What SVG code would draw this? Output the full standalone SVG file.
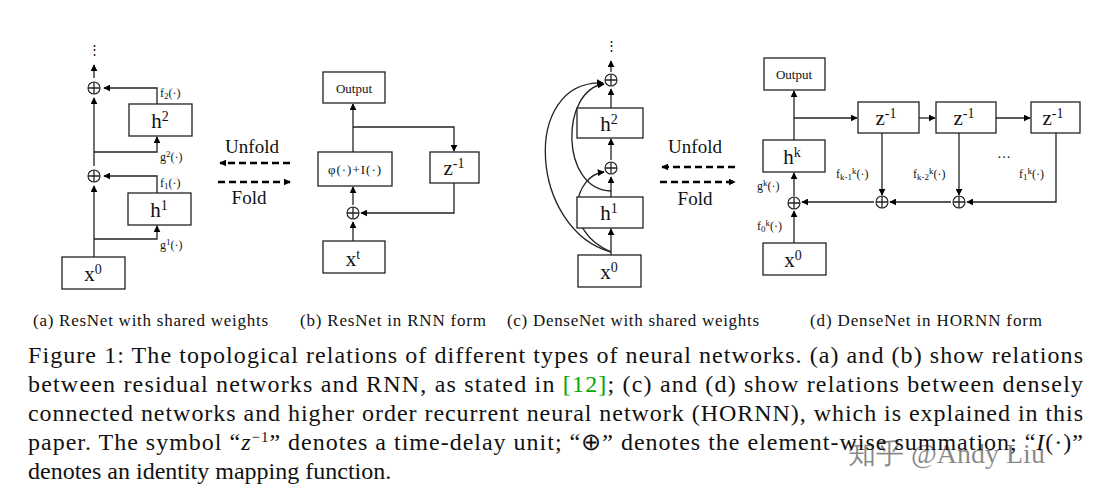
<svg xmlns="http://www.w3.org/2000/svg" width="1103" height="496" viewBox="0 0 1103 496">
<defs>
<marker id="ah" viewBox="0 0 10 10" refX="9" refY="5" markerWidth="7" markerHeight="7" orient="auto" markerUnits="userSpaceOnUse"><path d="M0,0 L10,5 L0,10 z" fill="#000"/></marker>
</defs>
<style>
.b{fill:#fff;stroke:#222;stroke-width:1.3}
.l{fill:none;stroke:#222;stroke-width:1.3}
.a{fill:none;stroke:#222;stroke-width:1.3;marker-end:url(#ah)}
.d{fill:none;stroke:#000;stroke-width:2.5;stroke-dasharray:7,4;marker-end:url(#ah)}
.c{fill:#fff;stroke:#222;stroke-width:1.1}
text{font-family:"Liberation Serif",serif;fill:#111}
.t{font-size:21px;text-anchor:middle}
.s{font-size:12px}
.m{font-size:13px;text-anchor:middle}
.cap{font-size:17px}
.fig{font-size:24px}
</style>
<g id="connectors">
<path class="a" d="M94,257 V186"/><path class="a" d="M94,166 V98"/><path class="a" d="M94,78 V65"/>
<path class="a" d="M94,239 H157 V226"/><path class="a" d="M157,193 V176 H104"/>
<path class="a" d="M94,152 H157 V137"/><path class="a" d="M157,104 V88 H104"/>
<path class="a" d="M353,241 V222"/><path class="a" d="M353,205 V187"/><path class="a" d="M353,152 V104"/>
<path class="a" d="M353,127 H454 V151"/><path class="a" d="M454,183 V213 H361"/>
<path class="d" d="M290,163 H220"/><path class="d" d="M218,182 H290"/>
<path class="a" d="M611,255 V229"/><path class="a" d="M611,197 V177"/><path class="a" d="M611,160 V139"/><path class="a" d="M611,108 V89"/><path class="a" d="M611,72 V61"/>
<path class="a" d="M611,252 C560,230 575,175 604,172"/>
<path class="a" d="M611,252 C530,230 520,80 603,83"/>
<path class="a" d="M611,191 C560,190 560,90 604,84"/>
<path class="d" d="M735,167 H662"/><path class="d" d="M660,182 H735"/>
<path class="a" d="M794,243 V211"/><path class="a" d="M794,196 V173"/><path class="a" d="M794,140 V91"/>
<path class="a" d="M794,118 H857"/><path class="a" d="M919,118 H935"/><path class="a" d="M996,118 H1030"/>
<path class="a" d="M882,133 V195"/><path class="a" d="M959,133 V195"/>
<path class="a" d="M1056,133 V202 H967"/><path class="a" d="M951,202 H890"/><path class="a" d="M874,202 H802"/>
</g>
<g id="a-x0"><rect class="b" x="62" y="257" width="63" height="32"/><text class="t" x="93" y="281">x<tspan font-size="14" dy="-7">0</tspan></text></g>
<g id="a-h1"><rect class="b" x="128" y="193" width="63" height="32"/><text class="t" x="159" y="217">h<tspan font-size="14" dy="-7">1</tspan></text></g>
<g id="a-h2"><rect class="b" x="129" y="104" width="63" height="32"/><text class="t" x="160" y="128">h<tspan font-size="14" dy="-7">2</tspan></text></g>
<g id="a-p1"><circle class="c" cx="94" cy="176" r="6"/><path class="l" d="M88,176H100M94,170V182" stroke-width="0.9"/></g>
<g id="a-p2"><circle class="c" cx="94" cy="88" r="6"/><path class="l" d="M88,88H100M94,82V94" stroke-width="0.9"/></g>
<text class="m" x="94" y="54">⋮</text>
<text class="s" x="160" y="249">g<tspan font-size="9" dy="-4">1</tspan><tspan dy="4">(·)</tspan></text>
<text class="s" x="160" y="187">f<tspan font-size="9" dy="2">1</tspan><tspan dy="-2">(·)</tspan></text>
<text class="s" x="160" y="161">g<tspan font-size="9" dy="-4">2</tspan><tspan dy="4">(·)</tspan></text>
<text class="s" x="160" y="97">f<tspan font-size="9" dy="2">2</tspan><tspan dy="-2">(·)</tspan></text>

<g id="b-out"><rect class="b" x="323" y="72" width="62" height="31"/><text class="m" x="354" y="93">Output</text></g>
<g id="b-phi"><rect class="b" x="318" y="152" width="74" height="34"/><text x="355" y="174" font-size="13" text-anchor="middle" letter-spacing="1">φ(·)+I(·)</text></g>
<g id="b-z"><rect class="b" x="430" y="152" width="49" height="31"/><text class="t" x="454" y="175">z<tspan font-size="14" dy="-7">-1</tspan></text></g>
<g id="b-xt"><rect class="b" x="323" y="241" width="62" height="32"/><text class="t" x="353" y="266">x<tspan font-size="14" dy="-7">t</tspan></text></g>
<g id="b-p"><circle class="c" cx="353" cy="213" r="6"/><path class="l" d="M347,213H359M353,207V219" stroke-width="0.9"/></g>
<text x="252" y="153" font-size="19" text-anchor="middle">Unfold</text>
<text x="249" y="204" font-size="19" text-anchor="middle">Fold</text>

<g id="c-x0"><rect class="b" x="578" y="255" width="63" height="32"/><text class="t" x="609" y="279">x<tspan font-size="14" dy="-7">0</tspan></text></g>
<g id="c-h1"><rect class="b" x="577" y="197" width="66" height="31"/><text class="t" x="609" y="220">h<tspan font-size="14" dy="-7">1</tspan></text></g>
<g id="c-h2"><rect class="b" x="577" y="108" width="66" height="30"/><text class="t" x="609" y="131">h<tspan font-size="14" dy="-7">2</tspan></text></g>
<g id="c-p1"><circle class="c" cx="611" cy="168" r="6"/><path class="l" d="M605,168H617M611,162V174" stroke-width="0.9"/></g>
<g id="c-p2"><circle class="c" cx="611" cy="80" r="6"/><path class="l" d="M605,80H617M611,74V86" stroke-width="0.9"/></g>
<text class="m" x="611" y="50">⋮</text>
<text x="695" y="153" font-size="19" text-anchor="middle">Unfold</text>
<text x="695" y="205" font-size="19" text-anchor="middle">Fold</text>

<g id="d-out"><rect class="b" x="764" y="58" width="61" height="32"/><text class="m" x="794" y="79">Output</text></g>
<g id="d-hk"><rect class="b" x="763" y="140" width="62" height="32"/><text class="t" x="792" y="164">h<tspan font-size="14" dy="-7">k</tspan></text></g>
<g id="d-x0"><rect class="b" x="763" y="243" width="63" height="32"/><text class="t" x="793" y="267">x<tspan font-size="14" dy="-7">0</tspan></text></g>
<g id="d-z1"><rect class="b" x="858" y="102" width="61" height="31"/><text class="t" x="886" y="125">z<tspan font-size="14" dy="-7">-1</tspan></text></g>
<g id="d-z2"><rect class="b" x="936" y="102" width="60" height="31"/><text class="t" x="964" y="125">z<tspan font-size="14" dy="-7">-1</tspan></text></g>
<g id="d-z3"><rect class="b" x="1031" y="102" width="49" height="31"/><text class="t" x="1053" y="125">z<tspan font-size="14" dy="-7">-1</tspan></text></g>
<g id="d-p0"><circle class="c" cx="794" cy="203" r="6"/><path class="l" d="M788,203H800M794,197V209" stroke-width="0.9"/></g>
<g id="d-p1"><circle class="c" cx="882" cy="202" r="6"/><path class="l" d="M876,202H888M882,196V208" stroke-width="0.9"/></g>
<g id="d-p2"><circle class="c" cx="959" cy="202" r="6"/><path class="l" d="M953,202H965M959,196V208" stroke-width="0.9"/></g>
<text class="s" x="757" y="190">g<tspan font-size="9" dy="-4">k</tspan><tspan dy="4">(·)</tspan></text>
<text class="s" x="757" y="230">f<tspan font-size="9" dy="2">0</tspan><tspan font-size="9" dy="-6">k</tspan><tspan dy="4">(·)</tspan></text>
<text class="s" x="836" y="178">f<tspan font-size="9" dy="2">k-1</tspan><tspan font-size="9" dy="-6">k</tspan><tspan dy="4">(·)</tspan></text>
<text class="s" x="913" y="178">f<tspan font-size="9" dy="2">k-2</tspan><tspan font-size="9" dy="-6">k</tspan><tspan dy="4">(·)</tspan></text>
<text class="s" x="1019" y="178">f<tspan font-size="9" dy="2">1</tspan><tspan font-size="9" dy="-6">k</tspan><tspan dy="4">(·)</tspan></text>
<text x="997" y="162" font-size="14">···</text>

<text class="cap" x="33" y="326" textLength="235">(a) ResNet with shared weights</text>
<text class="cap" x="300" y="326" textLength="186">(b) ResNet in RNN form</text>
<text class="cap" x="507" y="326" textLength="252">(c) DenseNet with shared weights</text>
<text class="cap" x="810" y="326" textLength="232">(d) DenseNet in HORNN form</text>

<text class="fig" x="28" y="363" textLength="1055" lengthAdjust="spacing">Figure 1: The topological relations of different types of neural networks. (a) and (b) show relations</text>
<text class="fig" x="28" y="392" textLength="1055" lengthAdjust="spacing">between residual networks and RNN, as stated in <tspan fill="#0a0">[12]</tspan>; (c) and (d) show relations between densely</text>
<text class="fig" x="28" y="421" textLength="1055" lengthAdjust="spacing">connected networks and higher order recurrent neural network (HORNN), which is explained in this</text>
<text class="fig" x="28" y="450" textLength="1055" lengthAdjust="spacing">paper. The symbol “<tspan font-style="italic">z</tspan><tspan font-size="15" dy="-8">−1</tspan><tspan dy="8">” denotes a time-delay unit; “⊕” denotes the element-wise summation; “</tspan><tspan font-style="italic">I</tspan>(·)”</text>
<text class="fig" x="28" y="479">denotes an identity mapping function.</text>
<text x="848" y="463" font-size="28" fill="#ccc" fill-opacity="0.5" font-family="Liberation Sans, Noto Sans CJK SC, sans-serif">知乎 @Andy Liu</text>
</svg>
